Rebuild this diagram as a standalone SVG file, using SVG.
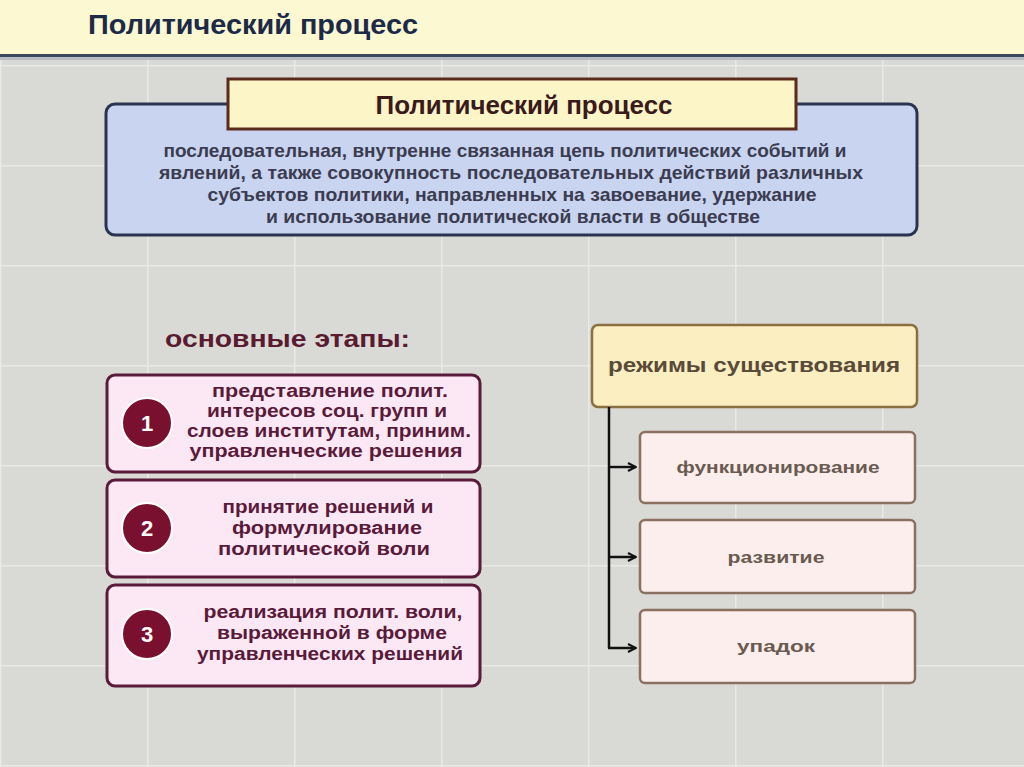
<svg xmlns="http://www.w3.org/2000/svg" width="1024" height="767" viewBox="0 0 1024 767">
<style>
.hdr{font-family:"Liberation Sans",Arial,sans-serif;font-weight:bold;fill:#1c2a48}
.desc{font-family:"Liberation Sans",Arial,sans-serif;font-weight:bold;font-size:18.5px;fill:#3c3c50;text-anchor:middle}
.stg{font-family:"Liberation Sans",Arial,sans-serif;font-weight:bold;font-size:17.5px;fill:#5a1a3a;text-anchor:middle}
.num{font-family:"Liberation Sans",Arial,sans-serif;font-weight:bold;font-size:22px;fill:#ffffff;text-anchor:middle}
.mode{font-family:"Liberation Sans",Arial,sans-serif;font-weight:bold;font-size:17px;fill:#6a5a50;text-anchor:middle}
.sbox{fill:#fbe8f4;stroke:#5a1a3a;stroke-width:3}
.circ{fill:#7a1030;stroke:#ffffff;stroke-width:2}
.cbox{fill:#fbeeec;stroke:#8a7060;stroke-width:2.5}
.conn{fill:none;stroke:#111111;stroke-width:2.5}
</style>
<defs>
<pattern id="tiles" x="0" y="65" width="147" height="100" patternUnits="userSpaceOnUse">
<rect width="147" height="100" fill="#d9d9d5"/>
<line x1="0" y1="0" x2="147" y2="0" stroke="#e9e9e6" stroke-width="3"/>
<line x1="0" y1="0" x2="0" y2="100" stroke="#e9e9e6" stroke-width="3"/>
</pattern>
<marker id="arr" viewBox="0 0 10 10" refX="9" refY="5" markerWidth="10" markerHeight="10" markerUnits="userSpaceOnUse" orient="auto">
<path d="M1,1 L9,5 L1,9" fill="none" stroke="#111111" stroke-width="2"/>
</marker>
</defs>
<rect x="0" y="0" width="1024" height="767" fill="url(#tiles)"/>
<g id="header">
<rect x="0" y="0" width="1024" height="55" fill="#fbf8d2"/>
<rect x="0" y="54" width="1024" height="3" fill="#3a4a5c"/>
<rect x="0" y="57" width="1024" height="3" fill="#b8bcc4"/>
<text class="hdr" x="88" y="34" font-size="28" textLength="330" lengthAdjust="spacingAndGlyphs">Политический процесс</text>
</g>
<g id="definition">
<rect x="106" y="104" width="811" height="131" rx="9" fill="#c8d4f0" stroke="#2a3450" stroke-width="3"/>
<rect x="228" y="79" width="568" height="50" fill="#fcf5c8" stroke="#5a2a1a" stroke-width="3"/>
<text x="524" y="114" font-family="Liberation Sans,Arial,sans-serif" font-weight="bold" font-size="25" fill="#3a1a1a" text-anchor="middle" textLength="297" lengthAdjust="spacingAndGlyphs">Политический процесс</text>
<text class="desc" x="505" y="157" textLength="683" lengthAdjust="spacingAndGlyphs">последовательная, внутренне связанная цепь политических событий и</text>
<text class="desc" x="511" y="179" textLength="704" lengthAdjust="spacingAndGlyphs">явлений, а также совокупность последовательных действий различных</text>
<text class="desc" x="512" y="201" textLength="609" lengthAdjust="spacingAndGlyphs">субъектов политики, направленных на завоевание, удержание</text>
<text class="desc" x="513" y="223" textLength="494" lengthAdjust="spacingAndGlyphs">и использование политической власти в обществе</text>
</g>
<text id="stages-title" x="165" y="347" font-family="Liberation Sans,Arial,sans-serif" font-weight="bold" font-size="24" fill="#5a1a30" textLength="245" lengthAdjust="spacingAndGlyphs">основные этапы:</text>
<g id="stage1">
<rect class="sbox" x="107" y="375" width="373" height="97" rx="8"/>
<circle class="circ" cx="147" cy="423" r="25"/>
<text class="num" x="147" y="431">1</text>
<text class="stg" x="330" y="397" textLength="236" lengthAdjust="spacingAndGlyphs">представление полит.</text>
<text class="stg" x="327" y="417" textLength="240" lengthAdjust="spacingAndGlyphs">интересов соц. групп и</text>
<text class="stg" x="329" y="437" textLength="284" lengthAdjust="spacingAndGlyphs">слоев институтам, приним.</text>
<text class="stg" x="326" y="457" textLength="273" lengthAdjust="spacingAndGlyphs">управленческие решения</text>
</g>
<g id="stage2">
<rect class="sbox" x="107" y="480" width="373" height="97" rx="8"/>
<circle class="circ" cx="147" cy="528" r="25"/>
<text class="num" x="147" y="536">2</text>
<text class="stg" x="328" y="513" textLength="211" lengthAdjust="spacingAndGlyphs">принятие решений и</text>
<text class="stg" x="327" y="534" textLength="190" lengthAdjust="spacingAndGlyphs">формулирование</text>
<text class="stg" x="324" y="555" textLength="212" lengthAdjust="spacingAndGlyphs">политической воли</text>
</g>
<g id="stage3">
<rect class="sbox" x="107" y="585" width="373" height="101" rx="8"/>
<circle class="circ" cx="147" cy="634" r="25"/>
<text class="num" x="147" y="642">3</text>
<text class="stg" x="333" y="618" textLength="259" lengthAdjust="spacingAndGlyphs">реализация полит. воли,</text>
<text class="stg" x="332" y="639" textLength="230" lengthAdjust="spacingAndGlyphs">выраженной в форме</text>
<text class="stg" x="330" y="660" textLength="266" lengthAdjust="spacingAndGlyphs">управленческих решений</text>
</g>
<g id="modes">
<rect x="592" y="325" width="325" height="82" rx="6" fill="#fbeec0" stroke="#8a7040" stroke-width="2.5"/>
<text x="754" y="372" font-family="Liberation Sans,Arial,sans-serif" font-weight="bold" font-size="20" fill="#5a4a3a" text-anchor="middle" textLength="292" lengthAdjust="spacingAndGlyphs">режимы существования</text>
</g>
<g id="connectors">
<path class="conn" d="M609,407 V648"/>
<path class="conn" d="M608,467 H636" marker-end="url(#arr)"/>
<path class="conn" d="M608,557 H636" marker-end="url(#arr)"/>
<path class="conn" d="M608,648 H636" marker-end="url(#arr)"/>
</g>
<g id="mode-functioning">
<rect class="cbox" x="640" y="432" width="275" height="71" rx="5"/>
<text class="mode" x="778" y="473" textLength="203" lengthAdjust="spacingAndGlyphs">функционирование</text>
</g>
<g id="mode-development">
<rect class="cbox" x="640" y="520" width="275" height="73" rx="5"/>
<text class="mode" x="776" y="563" textLength="97" lengthAdjust="spacingAndGlyphs">развитие</text>
</g>
<g id="mode-decline">
<rect class="cbox" x="640" y="610" width="275" height="73" rx="5"/>
<text class="mode" x="776" y="652" textLength="78" lengthAdjust="spacingAndGlyphs">упадок</text>
</g>
</svg>
